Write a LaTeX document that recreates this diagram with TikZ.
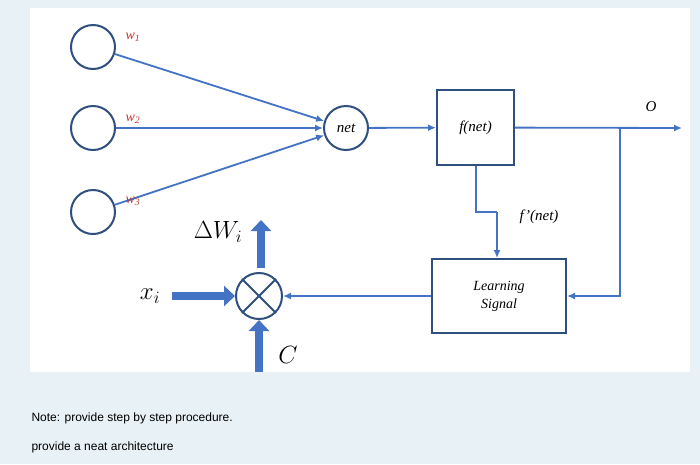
\documentclass[tikz,border=0pt]{standalone}
\usepackage{fontspec}
\setmainfont{Liberation Serif}
\newfontfamily\notefont{Liberation Sans}
\usetikzlibrary{arrows.meta}
\definecolor{bg}{HTML}{E8F1F5}
\definecolor{ln}{HTML}{4472C4}
\definecolor{dk}{HTML}{2F4F7F}
\definecolor{wred}{HTML}{C0392B}
\begin{document}
\begin{tikzpicture}[x=1pt,y=-1pt,font=\fontsize{15}{17}\selectfont,
  wire/.style={ln,line width=1.8pt,-{Latex[length=8pt,width=7pt]}},
  plain/.style={ln,line width=1.8pt},
  neuron/.style={circle,draw=dk,line width=2pt,minimum size=44pt,inner sep=0pt,fill=white},
  blk/.style={draw=dk,line width=2pt,fill=white,inner sep=0pt},
  fat/.style={ln,line width=8pt,-{Triangle[length=11pt,width=20pt]}},
  wl/.style={text=wred,font=\itshape\fontsize{14}{16}\selectfont}]
\fill[bg] (0,0) rectangle (700,464);
\fill[white] (30,8) rectangle (690,372);
\node[neuron] (i1) at (93,47) {};
\node[neuron] (i2) at (93,128) {};
\node[neuron] (i3) at (93,212) {};
\node[neuron] (net) at (346,128) {\itshape net};
\node[blk,minimum width=77pt,minimum height=75pt] (f) at (475.5,127.5) {\itshape f(net)};
\node[blk,minimum width=134pt,minimum height=74pt,align=center,font=\itshape\fontsize{14}{18}\selectfont] (ls) at (499,296) {Learning\\Signal};
\node[circle,draw=dk,line width=2pt,minimum size=46pt,inner sep=0pt] (m) at (259,296) {};
\draw[dk,line width=2pt] (m.north east)--(m.south west) (m.north west)--(m.south east);
\draw[wire] (i1) -- (net);
\draw[wire] (i2) -- (net);
\draw[wire] (i3) -- (net);
\node[wl] (w1) at (133,37) {w\textsubscript{1}};
\node[wl] (w2) at (133,119) {w\textsubscript{2}};
\node[wl] (w3) at (133,201) {w\textsubscript{3}};
\draw[wire] (net) -- (f);
\coordinate (out) at (682,128);
\coordinate (br) at (620,128);
\draw[wire] (f) -- (out);
\node (o) at (651,107) {\itshape O};
\draw[wire] (br) |- (ls.east);
\coordinate (k1) at (476,212);
\coordinate (k2) at (497,212);
\draw[plain] (f.south -| k1) -- (k1) -- (k2);
\draw[wire] (k2) -- (k2 |- ls.north);
\node (fp) at (539,217) {\itshape f'(net)};
\draw[wire] (ls) -- (m);
\coordinate (xa) at (172,296);
\coordinate (da) at (261,268);
\coordinate (db) at (261,220);
\coordinate (ca) at (259,372);
\draw[fat] (xa) -- (m.west);
\draw[fat] (da) -- (db);
\draw[fat] (ca) -- (m.south);
\node[font=\fontsize{26}{28}\selectfont] (dw) at (218,232) {$\Delta W_i$};
\node[font=\fontsize{26}{28}\selectfont] (xi) at (150,296) {$x_i$};
\node[font=\fontsize{26}{28}\selectfont] (c) at (288,355) {$C$};
\node[anchor=west,font=\notefont\fontsize{12}{14}\selectfont] (n1) at (28,418) {Note: provide step by step procedure.};
\node[anchor=west,font=\notefont\fontsize{12}{14}\selectfont] (n2) at (28,447) {provide a neat architecture};
\end{tikzpicture}
\end{document}
